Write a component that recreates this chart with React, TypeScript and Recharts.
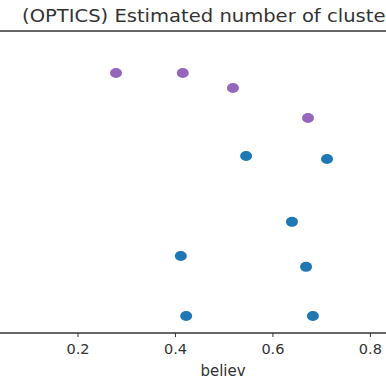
import React from "react";
import { ScatterChart, Scatter, XAxis, YAxis, ReferenceLine, Label } from "recharts";

const clusterA = [
  { believ: 0.278, y: 8.61 },
  { believ: 0.415, y: 8.61 },
  { believ: 0.518, y: 8.11 },
  { believ: 0.672, y: 7.12 },
];

const clusterB = [
  { believ: 0.545, y: 5.86 },
  { believ: 0.711, y: 5.76 },
  { believ: 0.639, y: 3.68 },
  { believ: 0.411, y: 2.55 },
  { believ: 0.668, y: 2.19 },
  { believ: 0.422, y: 0.56 },
  { believ: 0.682, y: 0.56 },
];

const xTicks = [0.2, 0.4, 0.6, 0.8];

const FONT = "DejaVu Sans, sans-serif";
const INK = "#333333";

const makeDot = (color: string) => (props: any) => (
  <ellipse cx={props.cx} cy={props.cy} rx={6} ry={5} fill={color} />
);

const Tick = (props: any) => {
  const { x, y, payload } = props;
  return (
    <text
      x={x}
      y={y + 15}
      textAnchor="middle"
      fill={INK}
      fontSize={14.5}
      fontFamily={FONT}
    >
      {Number(payload.value).toFixed(1)}
    </text>
  );
};

export default function App() {
  return (
    <div style={{ position: "absolute", left: 0, top: 0, width: 386, height: 386, background: "#fff", overflow: "hidden" }}>
      <div
        style={{
          position: "absolute",
          left: 22,
          top: 5,
          fontFamily: FONT,
          fontSize: 17,
          color: INK,
          whiteSpace: "nowrap",
          lineHeight: "22px",
          transform: "scaleX(1.15)",
          transformOrigin: "left top",
        }}
      >
        (OPTICS) Estimated number of cluste
      </div>
      <ScatterChart width={386} height={386} margin={{ top: 31, right: 0, left: 0, bottom: 0 }}>
        <XAxis
          type="number"
          dataKey="believ"
          domain={[0.04, 0.832]}
          ticks={xTicks}
          allowDataOverflow
          height={53}
          tickSize={4}
          stroke={INK}
          tickLine={{ stroke: INK }}
          axisLine={{ stroke: INK, strokeWidth: 1.3 }}
          tick={<Tick />}
        >
          <Label
            content={() => (
              <text x={223} y={376} textAnchor="middle" fill={INK} fontSize={15} fontFamily={FONT}>
                believ
              </text>
            )}
          />
        </XAxis>
        <YAxis type="number" dataKey="y" domain={[0, 10]} hide allowDataOverflow />
        <ReferenceLine y={10} stroke={INK} strokeWidth={1.3} />
        <Scatter data={clusterA} fill="#9467bd" shape={makeDot("#9467bd")} isAnimationActive={false} />
        <Scatter data={clusterB} fill="#1f77b4" shape={makeDot("#1f77b4")} isAnimationActive={false} />
      </ScatterChart>
    </div>
  );
}
